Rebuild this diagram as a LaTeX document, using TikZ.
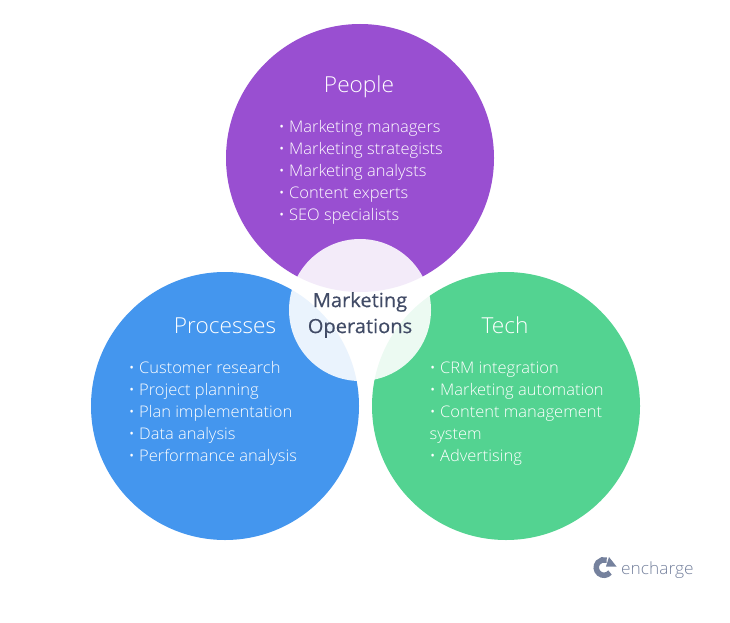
\documentclass[tikz,border=0pt]{standalone}
\usepackage{fontspec}
\setmainfont{Open Sans}[UprightFont=* Light,FakeStretch=1.03]
\newfontfamily\midfont{Open Sans}[FakeBold=0.4,FakeStretch=1.03]
\usetikzlibrary{calc}
\definecolor{peoplecol}{HTML}{994FD1}
\definecolor{processcol}{HTML}{4496EE}
\definecolor{techcol}{HTML}{53D391}
\definecolor{midcol}{HTML}{414B66}
\definecolor{logocol}{HTML}{75819D}
\tikzset{
  titletext/.style={text=white, font=\fontsize{22}{25}\selectfont, anchor=base},
  listtext/.style={text=white, font=\fontsize{16}{22}\selectfont, align=left, anchor=north west, inner sep=0pt}
}
\begin{document}
\begin{tikzpicture}[x=1pt, y=-1pt]
  \useasboundingbox (0,0) rectangle (730,623);
  \coordinate (P) at (360,158);
  \coordinate (R) at (225,406);
  \coordinate (T) at (506,406);
  \coordinate (M) at (360,310);
  \fill[peoplecol] (P) circle (134);
  \fill[processcol] (R) circle (134);
  \fill[techcol] (T) circle (134);
  \fill[white, fill opacity=0.89] (M) circle (71);
  % titles
  \node[titletext] (peopletitle) at (359,92.5) {People};
  \node[titletext] (processtitle) at (225,333) {Processes};
  \node[titletext] (techtitle) at (505,333) {Tech};
  % lists
  \node[listtext] (peoplelist) at (278.5,120) {• Marketing managers\\• Marketing strategists\\• Marketing analysts\\• Content experts\\• SEO specialists};
  \node[listtext] (processlist) at (128.5,361) {• Customer research\\• Project planning\\• Plan implementation\\• Data analysis\\• Performance analysis};
  \node[listtext] (techlist) at (429.5,361.5) {• CRM integration\\• Marketing automation\\• Content management\\system\\• Advertising};
  \node[text=midcol, font=\midfont\fontsize{19.5}{26}\selectfont, align=center] (midtext) at (360,315) {Marketing\\Operations};
  % logo
  \draw[logocol, line width=5.5pt] (610,572.5) arc (40:290:7.8);
  \fill[logocol] (606,566.5) -- (616.5,566.5) -- (609,557) -- cycle;
  \node[text=logocol, font=\fontsize{16.8}{20}\selectfont, anchor=base west, inner sep=0pt] (logotext) at (621,574) {encharge};
\end{tikzpicture}
\end{document}
